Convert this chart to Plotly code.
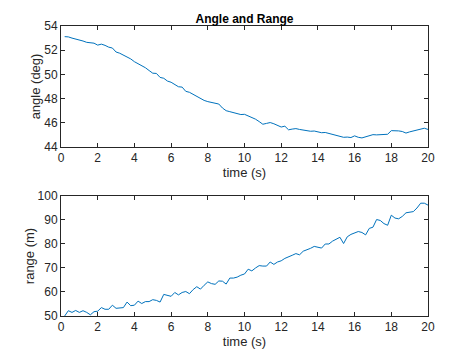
import plotly.graph_objects as go

time_s = [round(0.2 * i, 1) for i in range(1, 101)]

angle_deg = [
    53.12, 53.10, 53.00, 52.93, 52.80, 52.76, 52.65, 52.62, 52.58, 52.42,
    52.50, 52.40, 52.25, 52.18, 51.85, 51.75, 51.60, 51.45, 51.28, 51.05,
    50.90, 50.72, 50.55, 50.32, 50.10, 50.08, 49.75, 49.68, 49.45, 49.35,
    49.15, 48.98, 48.95, 48.60, 48.52, 48.35, 48.18, 48.05, 47.85, 47.75,
    47.68, 47.58, 47.55, 47.22, 47.00, 46.92, 46.83, 46.75, 46.68, 46.70,
    46.58, 46.40, 46.30, 46.10, 45.88, 45.95, 46.02, 45.92, 45.78, 45.65,
    45.72, 45.42, 45.48, 45.52, 45.45, 45.40, 45.35, 45.30, 45.32, 45.25,
    45.18, 45.20, 45.12, 45.05, 44.98, 44.88, 44.80, 44.82, 44.78, 44.92,
    44.80, 44.75, 44.82, 44.90, 45.02, 45.00, 45.02, 45.08, 45.05, 45.35,
    45.35, 45.33, 45.28, 45.15, 45.25, 45.32, 45.35, 45.45, 45.55, 45.45,
]

range_m = [
    50.0, 52.2, 51.5, 52.3, 51.5, 52.2, 51.5, 50.5, 51.8, 52.0,
    53.5, 52.8, 52.8, 54.5, 53.2, 53.3, 53.5, 55.8, 54.3, 54.5,
    56.2, 55.2, 56.0, 56.0, 56.8, 56.5, 55.8, 59.0, 58.5, 58.2,
    59.8, 58.8, 59.8, 60.2, 59.3, 61.0, 62.2, 61.2, 62.8, 64.2,
    63.5, 63.2, 64.6, 64.5, 63.3, 65.8, 65.8, 66.2, 67.0, 67.5,
    69.5, 68.8, 70.0, 71.0, 70.8, 70.8, 72.5, 71.5, 72.5, 73.0,
    74.0, 74.8, 75.3, 76.0, 75.5, 77.0, 77.5, 78.2, 79.0, 78.8,
    78.3, 80.0, 80.0, 81.2, 82.0, 82.8, 80.2, 83.0, 84.0, 84.5,
    85.2, 84.8, 83.8, 86.5, 87.0, 90.2, 89.8, 88.5, 87.8, 92.0,
    90.8, 90.5, 91.5, 93.0, 93.3, 93.5, 95.0, 97.0, 97.0, 96.2,
]

x_ticks = [0, 2, 4, 6, 8, 10, 12, 14, 16, 18, 20]
angle_ticks = [44, 46, 48, 50, 52, 54]
range_ticks = [50, 60, 70, 80, 90, 100]

line_color = "#0072BD"
axis_color = "#262626"
font_family = "Liberation Sans, Arial, Helvetica, sans-serif"

fig = go.Figure()
fig.add_trace(go.Scatter(x=time_s, y=angle_deg, mode="lines",
                         line=dict(color=line_color, width=1),
                         xaxis="x", yaxis="y", showlegend=False))
fig.add_trace(go.Scatter(x=time_s, y=range_m, mode="lines",
                         line=dict(color=line_color, width=1),
                         xaxis="x2", yaxis="y2", showlegend=False))

common_axis = dict(
    showline=True, linecolor=axis_color, linewidth=1, mirror="ticks",
    ticks="inside", ticklen=4, tickcolor=axis_color, tickwidth=1,
    showgrid=False, zeroline=False, automargin=True,
    tickfont=dict(family=font_family, size=12, color=axis_color),
    title_font=dict(family=font_family, size=13, color=axis_color),
)

# page body has an 8px default margin, so the figure is sized to fit inside it
fig.update_layout(
    width=466, height=347,
    margin=dict(l=53, r=46, t=18, b=39, autoexpand=False),
    paper_bgcolor="white", plot_bgcolor="white",
    title=dict(text="<b>Angle and Range</b>", x=0.5, xanchor="center",
               xref="paper", y=1, yref="paper", yanchor="bottom", pad=dict(b=3),
               font=dict(family=font_family, size=12, color="#000000")),
    xaxis=dict(domain=[0, 1], anchor="y", range=[0, 20], tickvals=x_ticks,
               title=dict(text="time (s)", standoff=0), **common_axis),
    yaxis=dict(domain=[0.5828, 1], anchor="x", range=[44, 54], tickvals=angle_ticks,
               title=dict(text="angle (deg)", standoff=0), **common_axis),
    xaxis2=dict(domain=[0, 1], anchor="y2", range=[0, 20], tickvals=x_ticks,
                title=dict(text="time (s)", standoff=0), **common_axis),
    yaxis2=dict(domain=[0, 0.4138], anchor="x2", range=[50, 100], tickvals=range_ticks,
                title=dict(text="range (m)", standoff=0), **common_axis),
)

fig.write_html("out.html")
